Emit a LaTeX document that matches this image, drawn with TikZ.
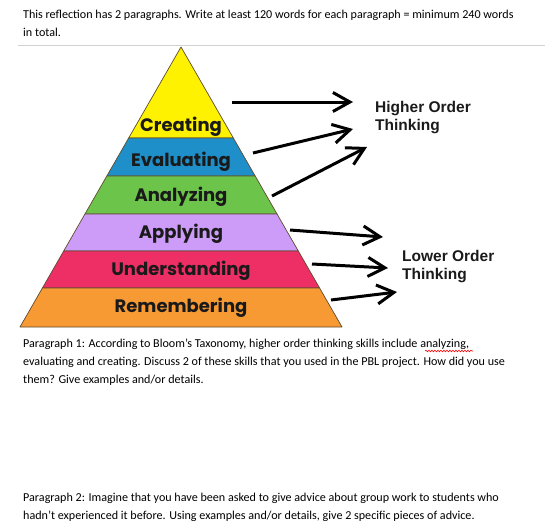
\documentclass[tikz,border=0pt]{standalone}
\usepackage{fontspec}
\setmainfont{Carlito}
\newfontfamily\labfont{Poppins}
\newfontfamily\arfont{Liberation Sans}
\usetikzlibrary{arrows.meta,calc,decorations.pathmorphing}
\definecolor{cyel}{HTML}{FFF200}
\definecolor{cblu}{HTML}{1E8FC8}
\definecolor{cgrn}{HTML}{6CC44A}
\definecolor{cpur}{HTML}{CC9CF8}
\definecolor{cred}{HTML}{EE2F66}
\definecolor{corg}{HTML}{F89A34}
\definecolor{cedge}{HTML}{5E4B2E}
\definecolor{crule}{HTML}{D2D2D2}
\definecolor{ctxt}{HTML}{1A1A1A}
\begin{document}
\begin{tikzpicture}[x=1pt,y=-1pt,
  body/.style={anchor=base west,inner sep=0pt,font=\fontsize{12.1}{14}\selectfont,text=black},
  lab/.style={inner sep=0pt,font=\labfont\bfseries\fontsize{18}{20}\selectfont,text=ctxt},
  side/.style={anchor=base west,inner sep=0pt,font=\arfont\bfseries\fontsize{15.5}{18}\selectfont,text=ctxt},
  band/.style={draw=cedge,line width=0.7pt,line join=round},
  arr/.style={line width=3pt,-{Straight Barb[length=17pt,width=19pt,line width=3pt]}}]
\useasboundingbox[fill=white] (0,0) rectangle (553,525);
% top text
\node[body] (t1) at (23,18) {This reflection has 2 paragraphs. Write at least 120 words for each paragraph = minimum 240 words};
\node[body] (t2) at (23,36) {in total.};
\coordinate (r1) at (18,45);
\coordinate (r2) at (545,45);
\draw[crule,line width=1pt] (r1) -- (r2);
% pyramid
\coordinate (A) at (181,47);
\coordinate (BL) at (20,327);
\coordinate (BR) at (342,327);
\foreach \n/\t in {1/0.325,2/0.4607,3/0.5964,4/0.7286,5/0.8607}{
  \coordinate (L\n) at ($(A)!\t!(BL)$);
  \coordinate (R\n) at ($(A)!\t!(BR)$);
}
\filldraw[band,fill=cyel] (A) -- (L1) -- (R1) -- cycle;
\filldraw[band,fill=cblu] (L1) -- (L2) -- (R2) -- (R1) -- cycle;
\filldraw[band,fill=cgrn] (L2) -- (L3) -- (R3) -- (R2) -- cycle;
\filldraw[band,fill=cpur] (L3) -- (L4) -- (R4) -- (R3) -- cycle;
\filldraw[band,fill=cred] (L4) -- (L5) -- (R5) -- (R4) -- cycle;
\filldraw[band,fill=corg] (L5) -- (BL) -- (BR) -- (R5) -- cycle;
\node[lab] (creating) at (181,127) {Creating};
\node[lab] (evaluating) at (181,162) {Evaluating};
\node[lab] (analyzing) at (181,197) {Analyzing};
\node[lab] (applying) at (181,234) {Applying};
\node[lab] (understanding) at (181,271) {Understanding};
\node[lab] (remembering) at (181,308) {Remembering};
% side labels
\node[side] (hi1) at (375,112) {Higher Order};
\node[side] (hi2) at (375,130) {Thinking};
\node[side] (lo1) at (402,261) {Lower Order};
\node[side] (lo2) at (402,279) {Thinking};
% arrows
\coordinate (s1) at (232,102); \coordinate (e1) at (353,102);
\coordinate (s2) at (253,153); \coordinate (e2) at (353,129);
\coordinate (s3) at (272,196); \coordinate (e3) at (367,147);
\coordinate (s4) at (290,230); \coordinate (e4) at (383,237);
\coordinate (s5) at (312,264); \coordinate (e5) at (388,268);
\coordinate (s6) at (331,300); \coordinate (e6) at (397,292);
\foreach \i in {1,...,6}{\draw[arr] (s\i) -- (e\i);}
% paragraphs
\node[body] (p1a) at (23,347) {Paragraph 1: According to Bloom’s Taxonomy, higher order thinking skills include analyzing,};
\node[body] (p1b) at (23,365) {evaluating and creating. Discuss 2 of these skills that you used in the PBL project. How did you use};
\node[body] (p1c) at (23,383) {them? Give examples and/or details.};
\node[body] (p2a) at (23,501) {Paragraph 2: Imagine that you have been asked to give advice about group work to students who};
\node[body] (p2b) at (23,519) {hadn’t experienced it before. Using examples and/or details, give 2 specific pieces of advice.};
\coordinate (w1) at (425,351);
\coordinate (w2) at (473,351);
\draw[red,line width=0.6pt,decorate,decoration={snake,amplitude=0.8pt,segment length=3pt}] (w1) -- (w2);
\end{tikzpicture}
\end{document}
